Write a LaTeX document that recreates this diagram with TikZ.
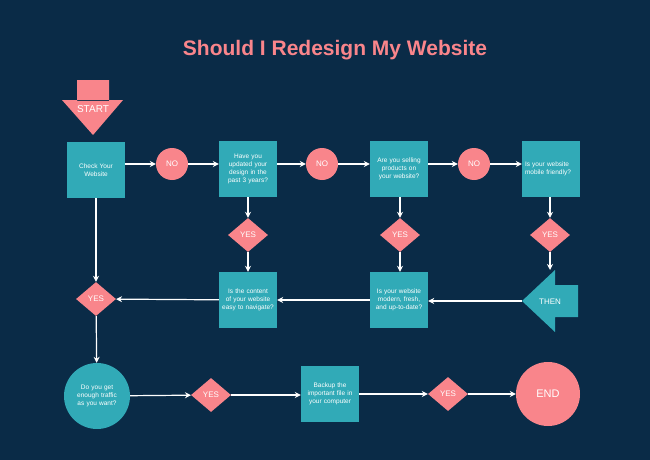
\documentclass[tikz,border=0pt]{standalone}
\usepackage{fontspec}
\setmainfont{Liberation Sans}
\usetikzlibrary{shapes.geometric,arrows.meta}
\definecolor{bg}{HTML}{0A2B47}
\definecolor{teal}{HTML}{31AAB7}
\definecolor{salm}{HTML}{F9858B}
\begin{document}
\begin{tikzpicture}[x=1pt,y=-1pt,
 box/.style={fill=teal,minimum width=58pt,minimum height=56pt,text width=52pt,align=center,font=\fontsize{6.5}{8}\selectfont,text=white,inner sep=1pt},
 no/.style={circle,fill=salm,minimum size=32pt,text=white,font=\fontsize{8}{9}\selectfont,inner sep=0},
 yes/.style={diamond,fill=salm,minimum width=40pt,minimum height=34pt,aspect=1.2,text=white,font=\fontsize{8}{9}\selectfont,inner sep=0},
 ar/.style={draw=white,line width=1.2pt,-{Stealth[length=6pt,width=6pt]}},
 ln/.style={draw=white,line width=1.2pt}]
\fill[bg] (0,0) rectangle (650,460);
\useasboundingbox (0,0) rectangle (650,460);
\node[text=salm,font=\bfseries\fontsize{21}{24}\selectfont] (title) at (335,50) {Should I Redesign My Website};
% START
\fill[salm] (77,80) rectangle (109,101) (62,100) -- (123,100) -- (93,135) -- cycle;
\node[text=white,font=\fontsize{10}{11}\selectfont] (start) at (93,109) {START};
\node[box] (c1) at (96,170) {Check Your Website};
\node[no] (n1) at (172,164) {NO};
\node[box] (c2) at (248,169) {Have you updated your design in the past 3 years?};
\node[no] (n2) at (322,164) {NO};
\node[box] (c3) at (399,169) {Are you selling products on your website?};
\node[no] (n3) at (474,164) {NO};
\node[box,align=left] (c4) at (551,169) {Is your website mobile friendly?};
\node[yes] (y2) at (248,235) {YES};
\node[yes] (y3) at (400,235) {YES};
\node[yes] (y4) at (550,235) {YES};
\node[box] (d2) at (248,300) {Is the content of your website easy to navigate?};
\node[box] (d3) at (399,300) {Is your website modern, fresh, and up-to-date?};
\fill[teal] (555,285) rectangle (578,317) (555,270) -- (555,332) -- (522,301) -- cycle;
\node[text=white,font=\fontsize{8}{9}\selectfont] (then) at (550,302) {THEN};
\coordinate (thenL) at (522,301);
\coordinate (thenT) at (550,270);
\node[yes] (y1) at (96,299) {YES};
\node[circle,fill=teal,minimum size=66pt,text width=52pt,align=center,text=white,font=\fontsize{6.5}{8}\selectfont,inner sep=0] (q) at (97,396) {Do you get enough traffic as you want?};
\node[yes] (y5) at (211,395) {YES};
\node[box] (b) at (330,394) {Backup the important file in your computer};
\node[yes] (y6) at (448,394) {YES};
\node[circle,fill=salm,minimum size=64pt,text=white,font=\fontsize{11}{12}\selectfont] (end) at (548,394) {END};
\draw[ar] (c1.east|-n1) -- (n1);
\draw[ar] (n1) -- (c2.west|-n1);
\draw[ar] (c2.east|-n2) -- (n2);
\draw[ar] (n2) -- (c3.west|-n2);
\draw[ar] (c3.east|-n3) -- (n3);
\draw[ar] (n3) -- (c4.west|-n3);
\draw[ar] (c2) -- (y2);
\draw[ar] (y2) -- (d2);
\draw[ar] (c3.south-|y3) -- (y3);
\draw[ar] (y3) -- (d3.north-|y3);
\draw[ar] (c4.south-|y4) -- (y4);
\draw[ar] (y4) -- (thenT);
\draw[ar] (thenL) -- (d3.east|-thenL);
\draw[ar] (d3) -- (d2);
\draw[ar] (d2) -- (y1);
\draw[ar] (c1) -- (y1);
\draw[ar] (y1) -- (q);
\draw[ar] (q) -- (y5);
\draw[ar] (y5) -- (b.west|-y5);
\draw[ar] (b.east|-y6) -- (y6);
\draw[ar] (y6) -- (end);
\end{tikzpicture}
\end{document}
